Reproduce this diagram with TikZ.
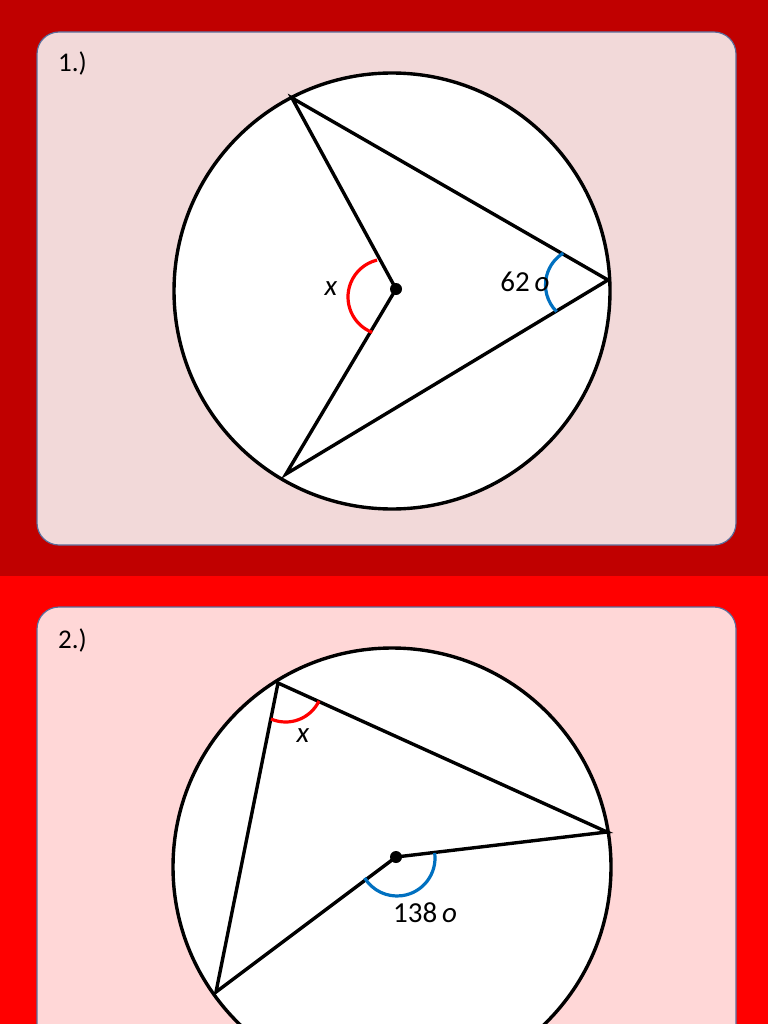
\documentclass[tikz,border=0pt]{standalone}
\usepackage{fontspec}
\newfontfamily\numfont{Carlito}
\definecolor{darkred}{HTML}{C00000}
\definecolor{panelone}{HTML}{F2D9D9}
\definecolor{paneltwo}{HTML}{FFD7D7}
\definecolor{panelline}{HTML}{5B6C9A}
\definecolor{anglered}{HTML}{FF0000}
\definecolor{angleblue}{HTML}{0070C0}

\begin{document}
\begin{tikzpicture}[x=1pt,y=-1pt,
    panel/.style={draw=panelline,line width=1.2pt,rounded corners=22pt},
    chord/.style={line width=3.4pt},
    redarc/.style={draw=anglered,line width=3.2pt},
    bluearc/.style={draw=angleblue,line width=3.2pt},
    qnum/.style={anchor=base west,inner sep=0pt,font=\numfont\fontsize{27}{30}\selectfont},
    lbl/.style={inner sep=0pt,font=\numfont\fontsize{29}{32}\selectfont}]
      \useasboundingbox (0,0) rectangle (768,1024);
      \fill[darkred] (0,0) rectangle (768,576);
      \fill[red] (0,576) rectangle (768,1024);
      \draw[panel,fill=panelone] (37,32) rectangle (736,545);
      \draw[panel,fill=paneltwo] (37,607) rectangle (736,1080);

      \node[qnum] (q1) at (58,72) {1.)};
      \draw[chord,fill=white] (392,291) circle (218);
      \coordinate (O1) at (396,289);
      \coordinate (A1) at (292,98);
      \coordinate (B1) at (608,280);
      \coordinate (C1) at (286,474);
      \draw[chord] (A1) -- (O1) -- (C1) -- (B1) -- cycle;
      \fill (O1) circle (6);
      \coordinate (R1) at (386,297);
      \draw[redarc] ([shift={(111.3:38)}]R1) arc[start angle=111.3,end angle=256.3,radius=38];
      \coordinate (S1) at (583,285);
      \draw[bluearc] ([shift={(134.8:37.5)}]S1) arc[start angle=134.8,end angle=238.1,radius=37.5];
      \node[lbl] (x1) at (331,289) {\textit{x}};
      \node[lbl] (a1) at (525,282) {62\,\textit{o}};

      \node[qnum] (q2) at (58,648) {2.)};
      \draw[chord,fill=white] (392,867) circle (219);
      \coordinate (O2) at (396,857);
      \coordinate (A2) at (278,683);
      \coordinate (B2) at (607,832);
      \coordinate (C2) at (216,992);
      \draw[chord] (A2) -- (B2) -- (O2) -- (C2) -- cycle;
      \fill (O2) circle (6);
      \coordinate (R2) at (285.6,685);
      \draw[redarc] ([shift={(25.6:37)}]R2) arc[start angle=25.6,end angle=113.2,radius=37];
      \coordinate (S2) at (397,858);
      \draw[bluearc] ([shift={(-7.7:38)}]S2) arc[start angle=-7.7,end angle=148.4,radius=38];
      \node[lbl] (x2) at (303,736) {\textit{x}};
      \node[lbl] (a2) at (425,913) {138\,\textit{o}};
    \end{tikzpicture}
\end{document}
